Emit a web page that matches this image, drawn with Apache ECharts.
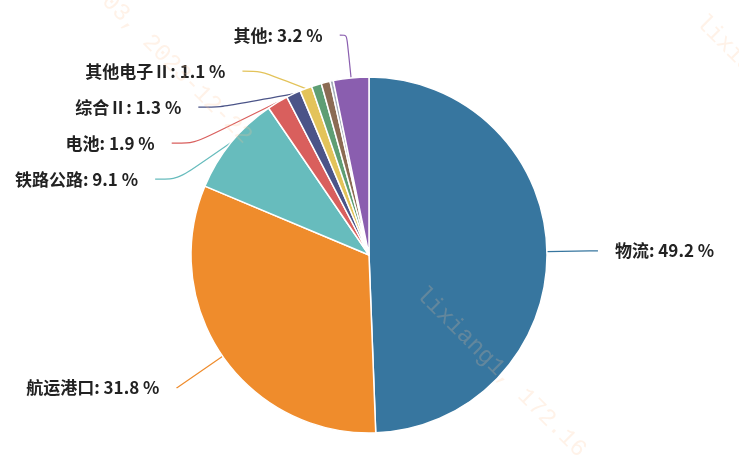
<!DOCTYPE html>
<html>
<head>
<meta charset="utf-8">
<script src="https://cdn.jsdelivr.net/npm/echarts@6/dist/echarts.min.js"></script>
<style>html,body{margin:0;padding:0;background:#fff}#c{width:739px;height:458px}</style>
</head>
<body>
<div id="c"></div>
<script>
const categories = ['物流', '航运港口', '铁路公路', '电池', '综合Ⅱ', '其他电子Ⅱ', '通信设备', '建筑装饰', '化学制品', '其他'];
const values = [49.2, 31.8, 9.1, 1.9, 1.3, 1.1, 0.9, 0.8, 0.3, 3.2];
const colors = ['#37769f', '#ef8c2c', '#67bcbd', '#d95f5d', '#4b5488', '#e3c35a', '#5e9e74', '#8b6b53', '#a4adb8', '#8a5eaf'];
const labelShown = [true, true, true, true, true, true, false, false, false, true];
const watermarks = ['03, 2023-12-22', 'lixiang1, 172.16', 'lixiang1'];
// label-line segment lengths per slice (style only)
const lineLen = [43, 55, 43, 43, 43, 43, 43, 43, 43, 43];
const lineLen2 = [8, 1, 23, 23, 22, 18, 7, 7, 7, 7];

const chart = echarts.init(document.getElementById('c'));
const data = categories.map((n, i) => ({
  name: n, value: values[i],
  itemStyle: { color: colors[i] },
  label: { show: labelShown[i] },
  labelLine: { show: labelShown[i], length: lineLen[i], length2: lineLen2[i] }
}));
const wmStyle = { fill: 'rgba(255,195,150,0.22)', font: '24px "Liberation Mono", monospace' };
chart.setOption({
  animation: false,
  series: [{
    type: 'pie',
    center: [369, 255],
    radius: 178,
    startAngle: 90,
    clockwise: true,
    itemStyle: { borderColor: '#fff', borderWidth: 1.5 },
    label: {
      formatter: p => p.name + ': ' + p.value + ' %',
      fontSize: 17,
      fontWeight: 'bold',
      lineHeight: 34,
      color: '#222',
      fontFamily: '"Noto Sans CJK SC", "Noto Sans", sans-serif',
      distanceToLabelLine: 17
    },
    labelLine: { smooth: 0.3, lineStyle: { width: 1.2 } },
    data: data
  }],
  graphic: [
    { type: 'text', x: 114, y: -11, rotation: -Math.PI / 4, z: 100, style: Object.assign({ text: watermarks[0] }, wmStyle) },
    { type: 'text', x: 428, y: 282, rotation: -Math.PI / 4, z: 100, style: Object.assign({ text: watermarks[1] }, wmStyle) },
    { type: 'text', x: 708, y: 10, rotation: -Math.PI / 4, z: 100, style: Object.assign({ text: watermarks[2] }, wmStyle) }
  ]
});
</script>
</body>
</html>
